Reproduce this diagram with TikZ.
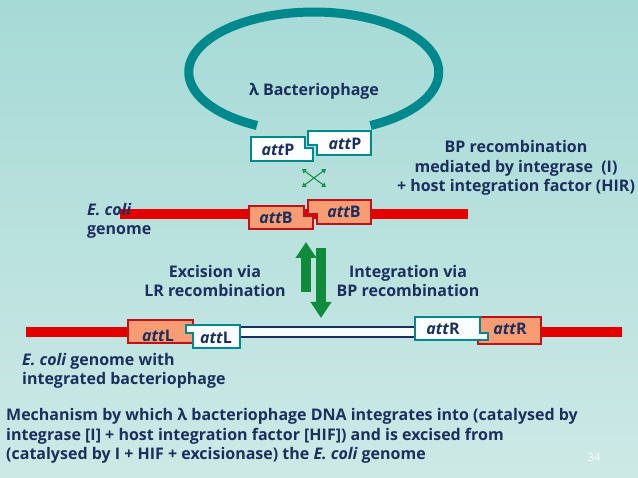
\documentclass[tikz,border=0pt]{standalone}
\usepackage{fontspec}
\setmainfont{Open Sans}
\usetikzlibrary{arrows.meta}
\definecolor{navy}{HTML}{1B2F5E}
\definecolor{teal1}{HTML}{00898C}
\definecolor{salmon}{HTML}{F79C73}
\definecolor{dred}{HTML}{C0101A}
\definecolor{bgt}{HTML}{A6DAD6}
\definecolor{bgb}{HTML}{CDE9E6}
\definecolor{gr}{HTML}{0E8C3C}
\begin{document}
\begin{tikzpicture}[x=1pt,y=-1pt,
  txt/.style={text=navy,font=\fontsize{16}{19.5}\selectfont\bfseries,align=center,inner sep=0},
  wbox/.style={fill=white!85!cyan!10,draw=teal1,line width=1.5},
  sbox/.style={fill=salmon,draw=dred,line width=1.5},
  lab/.style={text=navy,font=\fontsize{16}{18}\selectfont\bfseries,inner sep=0}]
\shade[top color=bgt,bottom color=bgb] (0,0) rectangle (638,478);
\useasboundingbox (0,0) rectangle (638,478);
% phage circle
\draw[teal1,line width=9] (257,125.5) arc[start angle=117,end angle=423,x radius=125,y radius=60];
\node[txt] (phage) at (314,91) {λ Bacteriophage};
% attP
\draw[wbox] (251,137) -- (305,137) -- (305,148) -- (313,148) -- (313,161) -- (251,161) -- cycle;
\draw[wbox] (308,131) -- (371,131) -- (371,155) -- (317,155) -- (317,145) -- (308,145) -- cycle;
\node[lab] (p1) at (278,150) {\itshape att\upshape P};
\node[lab] (p2) at (345,144) {\itshape att\upshape P};
% cross arrows
\coordinate (xc) at (314,178);
\draw[gr,line width=1,-{Triangle[open,length=4,width=5]}] (xc) -- ++(-12,-9);
\draw[gr,line width=1,-{Triangle[open,length=4,width=5]}] (xc) -- ++(12,-9);
\draw[gr,line width=1,-{Triangle[open,length=4,width=5]}] (xc) -- ++(-12,9);
\draw[gr,line width=1,-{Triangle[open,length=4,width=5]}] (xc) -- ++(12,9);
% attB
\coordinate (b0) at (120,214); \coordinate (b1) at (468,214);
\draw[red!90!black,line width=10] (b0) -- (b1);
\draw[sbox] (249,206) -- (304,206) -- (304,216) -- (313,216) -- (313,229) -- (249,229) -- cycle;
\draw[sbox] (308,200) -- (371,200) -- (371,224) -- (317,224) -- (317,214) -- (308,214) -- cycle;
\node[lab] (b1l) at (276,218) {\itshape att\upshape B};
\node[lab] (b2l) at (344,212) {\itshape att\upshape B};
\node[txt,align=left,anchor=west] (ecoli) at (87,221) {\itshape E. coli\\genome};
\node[txt] (bp) at (516,168) {BP recombination\\mediated by integrase\ \ (I)\\+ host integration factor (HIR)};
% big arrows
\coordinate (u0) at (306,292); \coordinate (u1) at (306,242);
\coordinate (d0) at (321,248); \coordinate (d1) at (321,318);
\draw[gr,line width=10,-{Triangle[length=16,width=20]}] (u0) -- (u1);
\draw[gr,line width=10,-{Triangle[length=16,width=20]}] (d0) -- (d1);
\node[txt] (exc) at (215,281) {Excision via\\LR recombination};
\node[txt] (int) at (408,281) {Integration via\\BP recombination};
% integrated
\coordinate (g0) at (26,332); \coordinate (g1) at (622,332);
\draw[red!90!black,line width=10] (g0) -- (g1);
\draw[fill=white!80!cyan!15,draw=navy,line width=1.2] (238,327) rectangle (417,337);
\draw[sbox] (128,320) -- (193,320) -- (193,343) -- (128,343) -- cycle;
\draw[wbox] (186,325) -- (240,325) -- (240,348) -- (193,348) -- (193,333) -- (186,333) -- cycle;
\node[lab] (l1) at (158,336) {\itshape att\upshape L};
\node[lab] (l2) at (216,338) {\itshape att\upshape L};
\draw[sbox] (478,317) -- (541,317) -- (541,344) -- (478,344) -- cycle;
\draw[wbox] (415,317) -- (480,317) -- (480,333) -- (488,333) -- (488,340) -- (415,340) -- cycle;
\node[lab] (r1) at (443,329) {\itshape att\upshape R};
\node[lab] (r2) at (510,329) {\itshape att\upshape R};
\node[txt,align=left,anchor=west] (eg) at (22,371) {\itshape E. coli\upshape\ genome with\\integrated bacteriophage};
\node[txt,align=left,anchor=west] (cap) at (6,436) {Mechanism by which λ bacteriophage DNA integrates into (catalysed by\\integrase [I] + host integration factor [HIF]) and is excised from\\(catalysed by I + HIF + excisionase) the \itshape E. coli\upshape\ genome};
\node[text=white,font=\fontsize{11}{12}\selectfont,inner sep=0] (pg) at (594,458) {34};
\end{tikzpicture}
\end{document}
